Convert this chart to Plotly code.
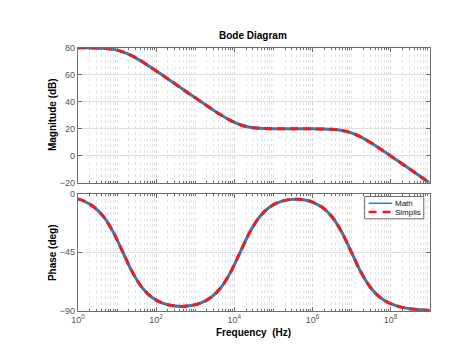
import plotly.graph_objects as go

# Frequencies (Hz)
freq_hz = [1.0, 1.413, 2.512, 4.467, 7.943, 14.13, 25.12, 44.67, 79.43, 141.3,
           251.2, 446.7, 794.3, 1413, 2512, 4467, 7943, 14130, 25120, 44670,
           79430, 141300, 251200, 446700, 794300, 1.0e6, 1.778e6, 3.162e6, 5.623e6,
           1.0e7, 1.778e7, 3.162e7, 5.623e7, 1.0e8, 1.778e8, 3.162e8, 5.623e8, 1.0e9]

# Magnitude (dB)
mag_db = [79.98, 79.96, 79.87, 79.59, 78.81, 76.99, 73.81, 69.59, 64.87, 59.96,
          54.99, 50.00, 45.01, 40.04, 35.13, 30.41, 26.19, 23.01, 21.19, 20.41,
          20.13, 20.04, 20.01, 20.00, 19.97, 19.96, 19.87, 19.59, 18.81,
          16.99, 13.81, 9.59, 4.87, -0.04, -5.01, -10.00, -15.00, -20.00]

# Phase (deg)
phase_deg = [-4.05, -5.70, -10.07, -17.53, -29.33, -44.94, -60.54, -72.27, -79.60, -83.72,
             -85.76, -86.38, -85.76, -83.72, -79.60, -72.27, -60.59, -45.02, -29.47, -17.79,
             -10.52, -6.51, -4.66, -4.37, -5.56, -6.52, -10.54, -17.81, -29.50,
             -45.08, -60.69, -72.48, -79.93, -84.30, -86.78, -88.19, -88.98, -89.43]

x_tick_vals = [1, 1e2, 1e4, 1e6, 1e8]
x_tick_text = ["10<sup>0</sup>", "10<sup>2</sup>", "10<sup>4</sup>", "10<sup>6</sup>", "10<sup>8</sup>"]
mag_ticks = [-20, 0, 20, 40, 60, 80]
phase_ticks = [-90, -45, 0]

series_names = ["Math", "Simplis"]

W, H = 474, 355
FONT = "Liberation Sans, Arial, sans-serif"
blue = "#2f7dba"
red = "#f01c1c"
frame = "#6e6e6e"

fig = go.Figure()
# magnitude
fig.add_trace(go.Scatter(x=freq_hz, y=mag_db, mode="lines", name=series_names[0],
                         line=dict(color=blue, width=3, shape="spline"),
                         xaxis="x", yaxis="y", showlegend=False, hoverinfo="skip"))
fig.add_trace(go.Scatter(x=freq_hz, y=mag_db, mode="lines", name=series_names[1],
                         line=dict(color=red, width=3, dash="8px,5px", shape="spline"),
                         xaxis="x", yaxis="y", showlegend=False, hoverinfo="skip"))
# phase
fig.add_trace(go.Scatter(x=freq_hz, y=phase_deg, mode="lines", name=series_names[0],
                         line=dict(color=blue, width=3, shape="spline"),
                         xaxis="x2", yaxis="y2", showlegend=False, hoverinfo="skip"))
fig.add_trace(go.Scatter(x=freq_hz, y=phase_deg, mode="lines", name=series_names[1],
                         line=dict(color=red, width=3, dash="8px,5px", shape="spline"),
                         xaxis="x2", yaxis="y2", showlegend=False, hoverinfo="skip"))

xdom = [72 / W, 429 / W]
common_x = dict(type="log", range=[0, 9], domain=xdom,
                showline=True, linecolor=frame, linewidth=1, mirror="ticks",
                ticks="inside", ticklen=4, tickcolor=frame,
                tickvals=x_tick_vals,
                showgrid=True, gridcolor="#d4d4d4", griddash="dot", gridwidth=1,
                minor=dict(dtick="D1", showgrid=True, gridcolor="#e4e4e4", griddash="dot",
                           ticks="inside", ticklen=2, tickcolor=frame),
                zeroline=False, fixedrange=True)

fig.update_layout(
    width=W, height=H,
    margin=dict(l=0, r=0, t=0, b=0),
    paper_bgcolor="white", plot_bgcolor="white",
    font=dict(family=FONT, size=9, color="#555555"),
    xaxis=dict(common_x, anchor="y", showticklabels=False, ticktext=x_tick_text),
    xaxis2=dict(common_x, anchor="y2", showticklabels=True, ticktext=x_tick_text,
                tickfont=dict(size=9, color="#555555")),
    yaxis=dict(domain=[(H - 183) / H, (H - 44) / H], range=[-20, 80], tickvals=mag_ticks,
               showline=True, linecolor=frame, mirror="ticks", ticks="inside", ticklen=4,
               tickcolor=frame, showgrid=True, gridcolor="#e0e0e0", zeroline=False,
               anchor="x", fixedrange=True),
    yaxis2=dict(domain=[(H - 315) / H, (H - 194) / H], range=[-90, 0], tickvals=phase_ticks,
                showline=True, linecolor=frame, mirror="ticks", ticks="inside", ticklen=4,
                tickcolor=frame, showgrid=True, gridcolor="#e0e0e0", zeroline=False,
                anchor="x2", fixedrange=True),
    showlegend=False,
    hovermode=False,
)

ann = [
    dict(text="<b>Bode Diagram</b>", x=250 / W, y=(H - 31) / H, font=dict(size=10, color="black")),
    dict(text="<b>Magnitude (dB)</b>", x=47 / W, y=(H - 113) / H, textangle=-90,
         font=dict(size=10, color="black")),
    dict(text="<b>Phase (deg)</b>", x=47 / W, y=(H - 255) / H, textangle=-90,
         font=dict(size=10, color="black")),
    dict(text="<b>Frequency  (Hz)</b>", x=250 / W, y=(H - 337) / H, font=dict(size=10, color="black")),
]
for a in ann:
    fig.add_annotation(xref="paper", yref="paper", showarrow=False,
                       xanchor="center", yanchor="middle", font_family=FONT, **a)

# legend (drawn box, sample lines and labels)
def px(x):
    return x / W

def py(y):
    return (H - y) / H

fig.add_shape(type="rect", xref="paper", yref="paper", x0=px(363), x1=px(423), y0=py(197), y1=py(220),
              line=dict(color=frame, width=1), fillcolor="white", layer="above")
fig.add_shape(type="line", xref="paper", yref="paper", x0=px(367), x1=px(391), y0=py(204), y1=py(204),
              line=dict(color=blue, width=1.5), layer="above")
fig.add_shape(type="line", xref="paper", yref="paper", x0=px(367), x1=px(391), y0=py(213), y1=py(213),
              line=dict(color=red, width=2.5, dash="8px,6px"), layer="above")
for name, yy in zip(series_names, [204, 213]):
    fig.add_annotation(xref="paper", yref="paper", x=px(392), y=py(yy), text=name, showarrow=False,
                       xanchor="left", yanchor="middle",
                       font=dict(family=FONT, size=8, color="#111111"))

fig.write_html("out.html", config={"displayModeBar": False, "staticPlot": True},
               post_script="document.body.style.margin='0';document.body.style.padding='0';")
